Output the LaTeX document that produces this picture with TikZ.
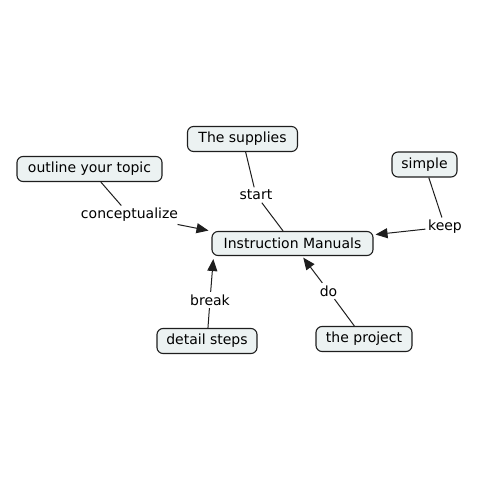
\documentclass[tikz,border=0pt]{standalone}
\usepackage{fontspec}
\setmainfont{DejaVu Sans}
\usetikzlibrary{arrows.meta}
\definecolor{nodefill}{RGB}{236,242,242}
\definecolor{edge}{RGB}{30,30,30}
\begin{document}
\begin{tikzpicture}[x=1pt,y=-1pt,
  concept/.style={draw=edge, fill=nodefill, rounded corners=6pt, line width=1.1pt,
    inner sep=0pt, minimum height=25pt, font=\fontsize{14}{16}\selectfont},
  linklabel/.style={inner sep=2.5pt, font=\fontsize{14}{16}\selectfont},
  conn/.style={line width=1pt, edge},
  arr/.style={conn, -{Triangle[length=12pt,width=10pt]}, shorten >=2pt}]
\useasboundingbox (0,0) rectangle (481,481);
% concepts
\node[concept, minimum width=110pt] (sup) at (242.5,139) {The supplies};
\node[concept, minimum width=145pt] (out) at (89.5,169) {outline your topic};
\node[concept, minimum width=65pt] (sim) at (424.5,164.5) {simple};
\node[concept, minimum width=161pt, minimum height=24pt] (im) at (292.5,243.5) {Instruction Manuals};
\node[concept, minimum width=100pt] (det) at (207,341) {detail steps};
\node[concept, minimum width=96pt] (prj) at (364,339) {the project};
% linking phrases
\node[linklabel] (con) at (129.5,215) {conceptualize};
\node[linklabel] (sta) at (256,195) {start};
\node[linklabel] (kee) at (445,227) {keep};
\node[linklabel] (bre) at (210,300) {break};
\node[linklabel] (doo) at (328.5,291) {do};
% connectors
\draw[conn] (out) -- (con);
\draw[arr] (con) -- ([xshift=-1pt]im.north west);
\draw[conn] (sup) -- (sta);
\draw[conn] (sta) -- (im);
\draw[conn] (sim) -- (kee);
\draw[arr] (kee) -- (im);
\draw[conn] (det) -- (bre);
\draw[arr] (bre) -- ([xshift=2pt,yshift=-1pt]im.south west);
\draw[conn] (prj) -- (doo);
\draw[arr] (doo) -- (im);
\end{tikzpicture}
\end{document}
